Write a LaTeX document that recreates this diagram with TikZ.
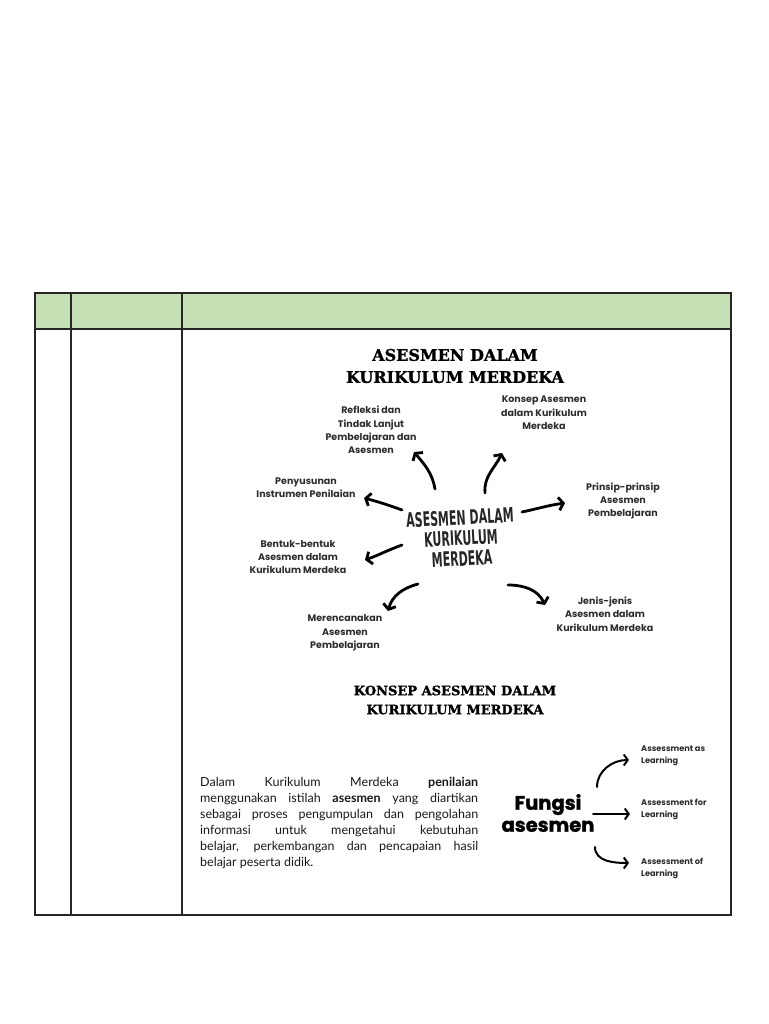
\documentclass[tikz,border=0pt]{standalone}
\usepackage{fontspec}
\setmainfont{Poppins}
\newfontfamily\titlefont[FakeBold=1.2]{DejaVu Serif}
\newfontfamily\handfont[FakeStretch=0.55]{DejaVu Sans}
\newfontfamily\parfont{Lato}
\newfontfamily\blackfont[FakeBold=1.5]{Poppins}
\usetikzlibrary{arrows.meta}
\definecolor{hdrgreen}{RGB}{197,224,180}
\definecolor{labgray}{RGB}{45,45,45}
\tikzset{
  lab/.style={align=center, font=\bfseries\fontsize{9.5}{13.3}\selectfont, text=labgray, inner sep=0pt},
  flab/.style={align=left, anchor=west, font=\bfseries\fontsize{8.2}{12}\selectfont, text=labgray, inner sep=0pt},
  bigarr/.style={line width=2.8pt, line cap=round, -{Straight Barb[length=4.5pt,width=13pt]}},
  smallarr/.style={line width=2pt, line cap=round, -{Straight Barb[length=4pt,width=11pt]}},
  tline/.style={line width=1.1pt, draw=black!85},
  ttl/.style={align=center, inner sep=0pt, font=\titlefont\bfseries\fontsize{16}{22}\selectfont}
}
\begin{document}
\begin{tikzpicture}[x=1pt,y=-1pt]
\useasboundingbox (0,0) rectangle (768,1024);
\fill[white] (0,0) rectangle (768,1024);
% table
\fill[hdrgreen] (35,293) rectangle (731,329);
\draw[tline] (35,293) rectangle (731,915);
\draw[tline] (35,329) -- (731,329);
\draw[tline] (71,293) -- (71,915);
\draw[tline] (182,293) -- (182,915);
% title
\node[ttl] (title) at (455,366) {ASESMEN DALAM\\KURIKULUM MERDEKA};
% center
\node[align=center, inner sep=0pt, rotate=3, font=\handfont\bfseries\fontsize{20}{20.5}\selectfont, text=black!85] (center) at (461,538) {ASESMEN DALAM\\KURIKULUM\\MERDEKA};
% labels
\node[lab] (konsep) at (544,413) {Konsep Asesmen\\dalam Kurikulum\\Merdeka};
\node[lab] (refleksi) at (371,430) {Refleksi dan\\Tindak Lanjut\\Pembelajaran dan\\Asesmen};
\node[lab] (penyusunan) at (306,488) {Penyusunan\\Instrumen Penilaian};
\node[lab] (prinsip) at (623,501) {Prinsip-prinsip\\Asesmen\\Pembelajaran};
\node[lab] (bentuk) at (298,557) {Bentuk-bentuk\\Asesmen dalam\\Kurikulum Merdeka};
\node[lab] (merencanakan) at (345,633) {Merencanakan\\Asesmen\\Pembelajaran};
\node[lab] (jenis) at (605,614) {Jenis-jenis\\Asesmen dalam\\Kurikulum Merdeka};
% arrow endpoints
\coordinate (t1) at (435,489); \coordinate (h1) at (414,452);
\coordinate (t2) at (485,493); \coordinate (h2) at (502,453);
\coordinate (t3) at (402,510); \coordinate (h3) at (364,498);
\coordinate (t4) at (522,512); \coordinate (h4) at (565,503);
\coordinate (t5) at (402,545); \coordinate (h5) at (365,560);
\coordinate (t6) at (418,584); \coordinate (h6) at (388,611);
\coordinate (t7) at (508,585); \coordinate (h7) at (545,605);
\draw[bigarr] (t1) to[out=100,in=-50] (h1);
\draw[bigarr] (t2) to[out=95,in=-115] (h2);
\draw[bigarr] (t3) to[out=160,in=-15] (h3);
\draw[bigarr] (t4) to[out=12,in=188] (h4);
\draw[bigarr] (t5) to[out=200,in=20] (h5);
\draw[bigarr] (t6) to[out=195,in=75] (h6);
\draw[bigarr] (t7) to[out=0,in=115] (h7);
% second title
\node[ttl, font=\titlefont\bfseries\fontsize{13}{19}\selectfont] (title2) at (455,700) {KONSEP ASESMEN DALAM\\KURIKULUM MERDEKA};
% paragraph
\node[anchor=north west, inner sep=0pt, text width=278pt, align=justify, font=\parfont\fontsize{12.5}{16}\selectfont, text=black!90] (para) at (200,777)
{Dalam Kurikulum Merdeka \textbf{penilaian}\linebreak
menggunakan istilah \textbf{asesmen} yang diartikan\linebreak
sebagai proses pengumpulan dan pengolahan\linebreak
informasi untuk mengetahui kebutuhan\linebreak
belajar, perkembangan dan pencapaian hasil\linebreak
belajar peserta didik.};
% fungsi
\node[align=center, inner sep=0pt, font=\blackfont\bfseries\fontsize{19.5}{22}\selectfont] (fungsi) at (548,813) {Fungsi\\asesmen};
\coordinate (f1t) at (597,787); \coordinate (f1h) at (629,760);
\coordinate (f2t) at (593,814); \coordinate (f2h) at (630,814);
\coordinate (f3t) at (595,847); \coordinate (f3h) at (629,863);
\draw[smallarr] (f1t) to[out=90,in=180] (f1h);
\draw[smallarr] (f2t) -- (f2h);
\draw[smallarr] (f3t) to[out=-90,in=180] (f3h);
\node[flab] (aas) at (641,756) {Assessment as\\Learning};
\node[flab] (afor) at (641,809) {Assessment for\\Learning};
\node[flab] (aof) at (641,868) {Assessment of\\Learning};
\end{tikzpicture}
\end{document}
